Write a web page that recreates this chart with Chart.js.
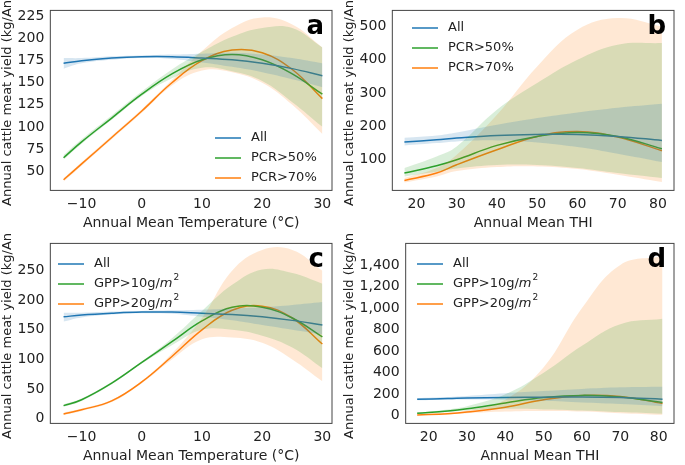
<!DOCTYPE html>
<html>
<head>
<meta charset="utf-8">
<script src="https://cdn.jsdelivr.net/npm/chart.js@4"></script>
<style>
body { margin: 0; background: #fff; }
.p { position: absolute; width: 342px; height: 232px; }
</style>
</head>
<body>
<div class="p" style="left:0;top:0"><canvas id="ca"></canvas></div>
<div class="p" style="left:342px;top:0"><canvas id="cb"></canvas></div>
<div class="p" style="left:0;top:233px"><canvas id="cc"></canvas></div>
<div class="p" style="left:342px;top:233px"><canvas id="cd"></canvas></div>
<script>
// x samples
const tempX = [-13, -10, -5, 0, 5, 10, 15, 20, 25, 30];
const thiX = [17, 25, 30, 40, 50, 60, 70, 81];
const tempTicks = [-10, 0, 10, 20, 30];
const thiTicks = [20, 30, 40, 50, 60, 70, 80];

// panel a: temperature, PCR groups
const aAll = [172, 175, 178, 179.5, 179.5, 178, 176, 172, 166, 158];
const aAllLo = [166, 172, 176, 178, 177, 173, 168, 162, 154, 145];
const aAllHi = [178, 178, 180, 181, 182, 183, 184, 182, 178, 172];
const aG = [65, 83, 110, 137, 160, 176, 182, 176, 160, 137];
const aGLo = [63, 81, 108, 135, 155, 167, 163, 152, 128, 100];
const aGHi = [68, 86, 113, 140, 165, 185, 202, 212, 212, 190];
const aO = [40, 58, 88, 118, 150, 175, 187, 184, 165, 132];
const aOLo = [38, 56, 86, 116, 147, 164, 162, 150, 125, 92];
const aOHi = [42, 60, 90, 120, 153, 186, 212, 224, 216, 190];

// panel b: THI, PCR groups
const bAll = [153, 160, 165, 173, 176, 176, 170, 158];
const bAllLo = [143, 150, 155, 158, 152, 138, 118, 93];
const bAllHi = [166, 173, 182, 205, 225, 242, 256, 268];
const bG = [60, 82, 100, 143, 170, 182, 170, 133];
const bGLo = [50, 64, 74, 84, 84, 75, 60, 45];
const bGHi = [75, 110, 140, 250, 330, 400, 445, 450];
const bO = [38, 60, 85, 130, 170, 185, 168, 127];
const bOLo = [32, 50, 66, 78, 80, 72, 55, 33];
const bOHi = [45, 75, 115, 235, 380, 490, 525, 500];

// panel c: temperature, GPP groups
const cAll = [172, 175, 178, 180, 180, 178, 176, 172, 166, 158];
const cAllLo = [164, 171, 176, 178, 177, 172, 166, 158, 150, 142];
const cAllHi = [179, 179, 181, 182, 183, 184, 186, 188, 192, 197];
const cG = [22, 32, 60, 95, 130, 165, 188, 188, 170, 138];
const cGLo = [20, 30, 58, 93, 124, 150, 150, 140, 120, 85];
const cGHi = [24, 34, 62, 97, 136, 182, 226, 252, 246, 228];
const cO = [8, 15, 30, 62, 105, 150, 183, 190, 170, 126];
const cOLo = [6, 13, 28, 60, 100, 134, 137, 128, 100, 63];
const cOHi = [10, 17, 32, 64, 110, 170, 250, 285, 285, 250];

// panel d: THI, GPP groups
const dAll = [155, 160, 165, 170, 173, 175, 170, 155];
const dAllLo = [145, 150, 152, 150, 140, 125, 110, 90];
const dAllHi = [165, 175, 185, 210, 230, 250, 265, 270];
const dG = [25, 45, 65, 120, 170, 190, 175, 125];
const dGLo = [20, 35, 50, 65, 60, 50, 35, 20];
const dGHi = [30, 60, 90, 200, 400, 650, 850, 900];
const dO = [8, 20, 35, 80, 150, 190, 180, 115];
const dOLo = [5, 15, 25, 40, 45, 40, 25, 10];
const dOHi = [12, 30, 50, 150, 450, 1000, 1400, 1480];

const BLUE = '#1f77b4', GREEN = '#2ca02c', ORANGE = '#ff7f0e';
const FONT = 'DejaVu Sans';

function pts(xs, ys) {
    return xs.map((x, i) => ({ x: x, y: ys[i] }));
}

function band(xs, lo, hi, color) {
    const fillCol = color + '2e';
    return [
        { data: pts(xs, hi), borderWidth: 0, pointRadius: 0, fill: '+1', backgroundColor: fillCol, tension: 0.4 },
        { data: pts(xs, lo), borderWidth: 0, pointRadius: 0, fill: false, tension: 0.4 }
    ];
}

function line(xs, ys, color) {
    return { data: pts(xs, ys), borderColor: color, borderWidth: 1.5, pointRadius: 0, fill: false, tension: 0.4 };
}

// frame, letter and legend drawn on the canvas
const decorPlugin = {
    id: 'decor',
    afterDraw(chart) {
        const o = chart.options.plugins.decor;
        const c = chart.ctx, a = chart.chartArea;
        c.save();
        c.strokeStyle = '#444';
        c.lineWidth = 1;
        c.strokeRect(a.left, a.top, a.right - a.left, a.bottom - a.top);
        c.fillStyle = '#000';
        c.font = 'bold 26px ' + FONT;
        c.textAlign = 'right';
        c.textBaseline = 'top';
        c.fillText(o.letter, a.right - 8, a.top + 4);
        c.textAlign = 'left';
        c.textBaseline = 'middle';
        o.labels.forEach((lab, i) => {
            const y = o.y + i * 20;
            c.strokeStyle = [BLUE, GREEN, ORANGE][i];
            c.lineWidth = 1.5;
            c.beginPath();
            c.moveTo(o.x, y);
            c.lineTo(o.x + 26, y);
            c.stroke();
            c.fillStyle = '#222';
            c.font = '13px ' + FONT;
            let tx = o.x + 36;
            if (lab.indexOf('/m2') > 0) {
                const base = lab.replace('m2', '');
                c.fillText(base, tx, y);
                tx += c.measureText(base).width;
                c.font = 'italic 13px ' + FONT;
                c.fillText('m', tx, y);
                tx += c.measureText('m').width;
                c.font = '9px ' + FONT;
                c.fillText('2', tx + 1, y - 6);
            } else {
                c.fillText(lab, tx, y);
            }
        });
        c.restore();
    }
};

function makeChart(id, xs, sets, xr, xTicks, yr, yStep, xTitle, letter, labels, legX, legY) {
    const datasets = [];
    sets.forEach((s, i) => datasets.push(...band(xs, s[1], s[2], [BLUE, GREEN, ORANGE][i])));
    sets.forEach((s, i) => datasets.push(line(xs, s[0], [BLUE, GREEN, ORANGE][i])));
    new Chart(document.getElementById(id), {
        type: 'line',
        data: { datasets: datasets },
        plugins: [decorPlugin],
        options: {
            responsive: true,
            maintainAspectRatio: false,
            animation: false,
            layout: { padding: { top: 8, right: 10 } },
            plugins: {
                legend: { display: false },
                tooltip: { enabled: false },
                decor: { letter: letter, labels: labels, x: legX, y: legY }
            },
            scales: {
                x: {
                    type: 'linear', min: xr[0], max: xr[1],
                    grid: { display: false, tickLength: 4 },
                    border: { display: false },
                    ticks: { color: '#222', font: { family: FONT, size: 14 }, padding: 2,
                        callback: v => String(v).replace('-', '\u2212') },
                    afterBuildTicks: ax => { ax.ticks = xTicks.map(v => ({ value: v })); },
                    title: { display: true, text: xTitle, color: '#222', font: { family: FONT, size: 14 }, padding: 0 }
                },
                y: {
                    min: yr[0], max: yr[1],
                    grid: { display: false, tickLength: 4 },
                    border: { display: false },
                    ticks: { color: '#222', font: { family: FONT, size: 14 }, padding: 2 },
                    afterBuildTicks: ax => {
                        const t = [];
                        for (let v = yr[2]; v <= yr[3]; v += yStep) t.push({ value: v });
                        ax.ticks = t;
                    },
                    title: { display: true, text: 'Annual cattle meat yield (kg/An)', color: '#222', font: { family: FONT, size: 13 }, padding: 0 }
                }
            }
        }
    });
}

makeChart('ca', tempX, [[aAll, aAllLo, aAllHi], [aG, aGLo, aGHi], [aO, aOLo, aOHi]],
    [-15.2, 31.6], tempTicks, [28, 232, 50, 225], 25, 'Annual Mean Temperature (\u00b0C)', 'a', ['All', 'PCR>50%', 'PCR>70%'], 215, 138);
makeChart('cb', thiX, [[bAll, bAllLo, bAllHi], [bG, bGLo, bGHi], [bO, bOLo, bOHi]],
    [14, 84], thiTicks, [8, 548, 100, 500], 100, 'Annual Mean THI', 'b', ['All', 'PCR>50%', 'PCR>70%'], 70, 28);
makeChart('cc', tempX, [[cAll, cAllLo, cAllHi], [cG, cGLo, cGHi], [cO, cOLo, cOHi]],
    [-15.2, 31.6], tempTicks, [-8, 296, 0, 250], 50, 'Annual Mean Temperature (\u00b0C)', 'c', ['All', 'GPP>10g/m2', 'GPP>20g/m2'], 58, 31);
makeChart('cd', thiX, [[dAll, dAllLo, dAllHi], [dG, dGLo, dGHi], [dO, dOLo, dOHi]],
    [14, 84], thiTicks, [-70, 1600, 0, 1400], 200, 'Annual Mean THI', 'd', ['All', 'GPP>10g/m2', 'GPP>20g/m2'], 75, 31);
</script>
</body>
</html>
